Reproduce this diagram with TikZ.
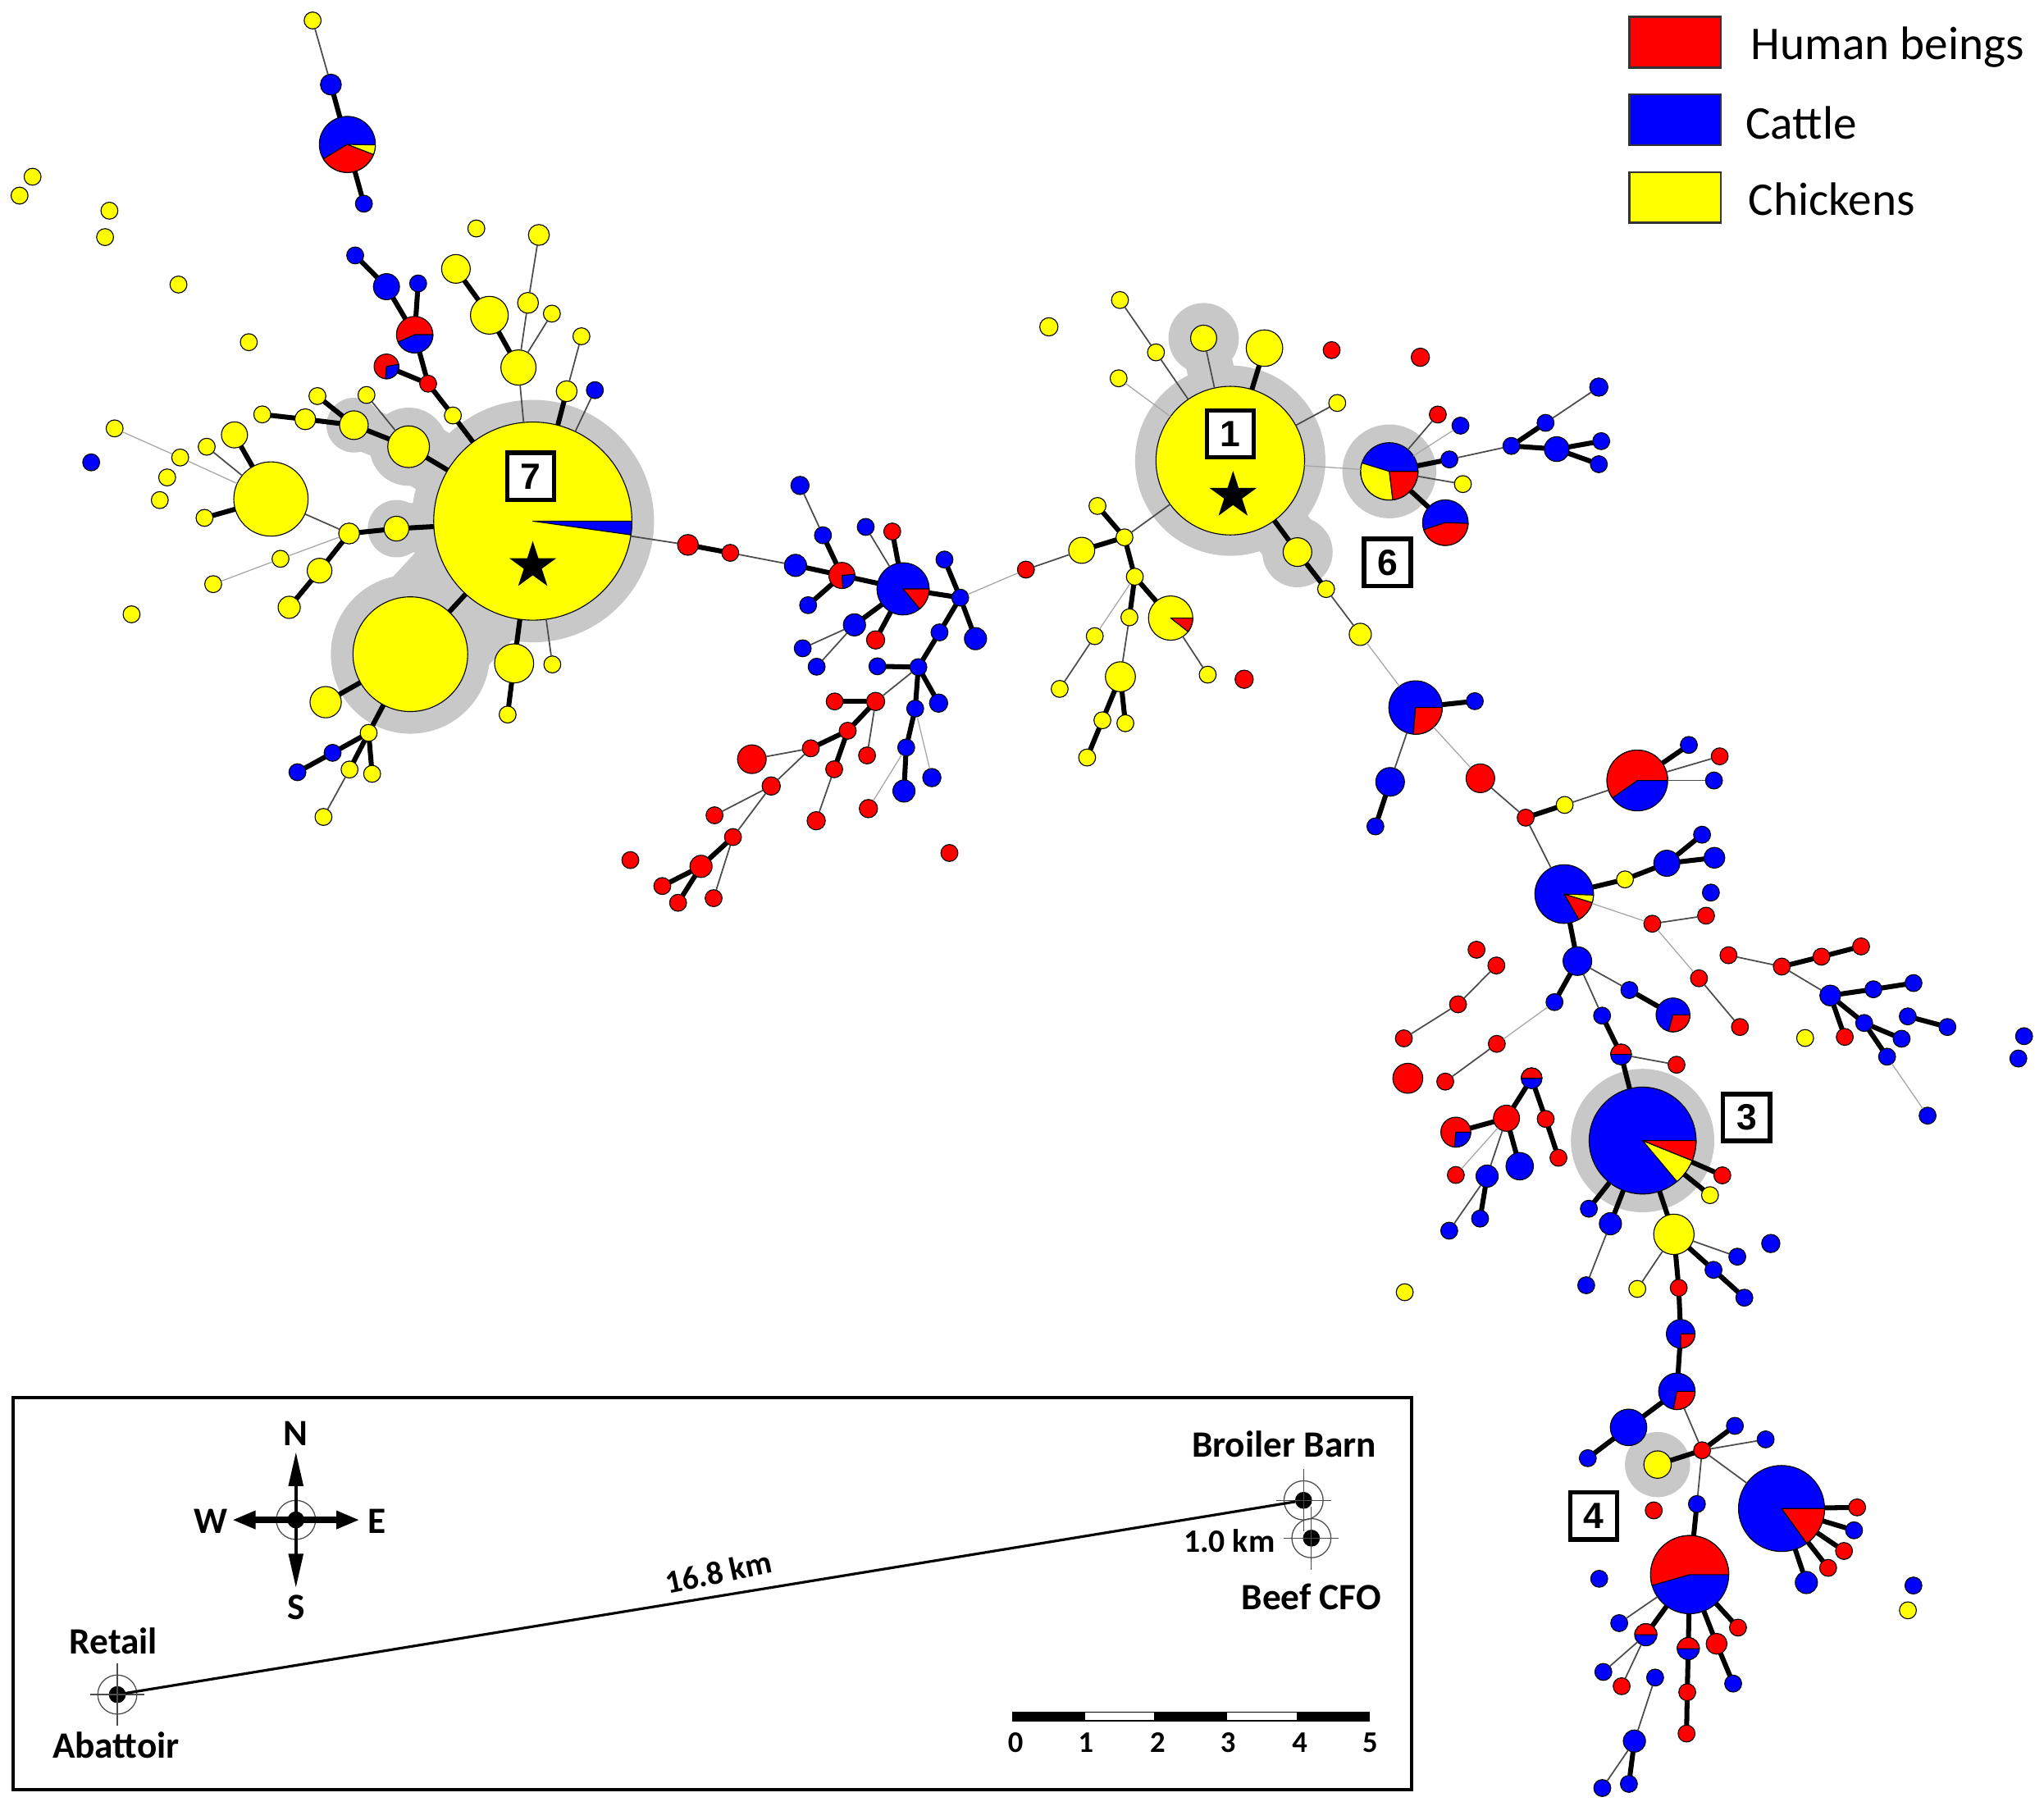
\documentclass[tikz,border=0pt]{standalone}
\usepackage{fontspec}
\setmainfont{Carlito}
\newfontfamily\labfont{Liberation Sans}
\usetikzlibrary{shapes.geometric,arrows.meta,backgrounds}
\definecolor{haloc}{HTML}{C8C8C8}
\definecolor{yellow}{RGB}{255,255,0}
\definecolor{red}{RGB}{255,0,0}
\definecolor{blue}{RGB}{0,0,255}
\tikzset{
  dot/.style={circle,draw=black,line width=0.7pt,inner sep=0pt,outer sep=0pt},
  slicepart/.style={draw=black,line width=0.7pt,line join=round},
  ethick/.style={black,line width=3.8pt},
  ethin/.style={black!70,line width=1.1pt},
  efaint/.style={black!35,line width=0.8pt},
  halo/.style={fill=haloc,draw=none},
  haloneck/.style={draw=haloc},
  numbox/.style={rectangle,draw=black,line width=3.4pt,fill=white,inner sep=0pt,minimum width=36pt,minimum height=36pt,font=\labfont\bfseries\fontsize{28}{30}\selectfont},
  bigstar/.style={star,star points=5,star point ratio=2.618,fill=black,draw=none,minimum size=38pt,inner sep=0pt},
  legbox/.style={rectangle,draw=black!80,line width=1.6pt,minimum width=70pt,minimum height=39pt,inner sep=0pt},
  legtext/.style={anchor=west,inner sep=0pt,font=\fontsize{36}{40}\selectfont},
  maptext/.style={inner sep=0pt,font=\bfseries\fontsize{28.5}{32}\selectfont},
  smalltext/.style={inner sep=0pt,font=\bfseries\fontsize{25}{28}\selectfont},
  scaletext/.style={inner sep=0pt,font=\bfseries\fontsize{23}{26}\selectfont},
  sitedot/.style={circle,fill=black,inner sep=0pt,minimum size=13pt,outer sep=0pt},
  sitering/.style={draw=black!70,line width=0.8pt},
  zoneA/.style={x=0.3331pt,y=-0.4134pt},
  zoneB/.style={shift={(459.4pt,-207.7pt)},x=0.3452pt,y=-0.3211pt},
  zoneC/.style={shift={(786.7pt,-214pt)},x=0.3050pt,y=-0.3050pt},
  zoneD/.style={shift={(1038.4pt,-553.8pt)},x=0.3379pt,y=-0.2810pt},
  zoneE/.style={shift={(1082.4pt,-944pt)},x=0.2649pt,y=-0.2882pt},
}
\newcommand\dotY[4][6.5]{\node[dot,fill=yellow,minimum size=#1*2pt] (#2) at (#3,#4) {};}
\newcommand\dotR[4][6.5]{\node[dot,fill=red,minimum size=#1*2pt] (#2) at (#3,#4) {};}
\newcommand\dotB[4][6.5]{\node[dot,fill=blue,minimum size=#1*2pt] (#2) at (#3,#4) {};}
\newcommand\pienode[6]{\node[dot,fill=#5,minimum size=#4*2pt] (#1) at (#2,#3) {};
  \foreach \sa/\sb/\sc in {#6} {\draw[slicepart,fill=\sc] (#1.center) -- ++(\sa:#4pt) arc[start angle=\sa,end angle=\sb,radius=#4pt] -- cycle;}}
\newcommand\sitemark[3]{%
  \node[sitedot] (#1) at (#2,#3) {};
  \draw[sitering] (#1) circle (15pt);
  \draw[sitering] ([xshift=-21pt]#1.center) -- ([xshift=21pt]#1.center);
  \draw[sitering] ([yshift=-24pt]#1.center) -- ([yshift=24pt]#1.center);}
\begin{document}
\begin{tikzpicture}[x=1pt,y=-1pt]
\useasboundingbox (0,0) rectangle (1568,1396);
% ---------- region A
\begin{scope}[zoneA]
\dotY{a1}{720}{38}\dotB[8]{a2}{762}{157}
\pienode{a3}{800}{268}{21.5}{blue}{211/339/red,339/359/yellow}
\dotB{a4}{838}{378}
\dotY{s1}{75}{328}\dotY{s2}{45}{363}\dotY{s3}{252}{391}\dotY{s4}{242}{440}\dotY{s5}{411}{528}\dotY{s6}{573}{635}\dotY{s7}{303}{1140}
\dotY{s8}{264}{795}\dotB{s9}{210}{858}\dotY{s10}{1097}{424}
\dotY[8]{a5}{1241}{436}\dotY[11]{a6}{1050}{499}\dotY[14.5]{a7}{1127}{585}\dotY[8]{a8}{1216}{562}\dotY{a9}{1271}{582}\dotY[13.5]{a10}{1194}{682}
\dotY{a11}{1339}{624}\dotY[8]{a12}{1305}{726}\dotB{a13}{1370}{724}
\dotB{a14}{818}{474}\dotB[10]{a15}{890}{532}\dotB{a16}{963}{526}
\pienode{a17}{955}{621}{14}{red}{204/360/blue}
\pienode{a18}{890}{680}{9.5}{red}{265/370/blue}
\dotR{a19}{986}{712}\dotY{a20}{1043}{771}
\dotY{a21}{844}{733}\dotY{a22}{731}{735}\dotY[11]{a23}{815}{789}\dotY[16]{a24}{941}{829}
\dotY[8]{a25}{703}{778}\dotY{a26}{604}{769}\dotY[10]{a27}{540}{807}\dotY{a28}{476}{829}\dotY{a29}{415}{849}\dotY{a30}{385}{886}\dotY{a31}{368}{928}
\dotY[28.5]{a32}{624}{926}\dotY{a33}{471}{961}\dotY[8]{a34}{804}{990}\dotY[9.5]{a35}{913}{981}
\pienode{big7}{1227}{967}{76}{yellow}{-8/0/blue}
\dotY{a36}{646}{1037}\dotY[9.5]{a37}{736}{1059}\dotY{a38}{491}{1084}\dotY[8.5]{a39}{666}{1127}
\dotY[44]{a40}{945}{1214}\dotY[12]{a41}{750}{1303}\dotY[15]{a42}{1184}{1231}\dotY{a43}{1272}{1233}\dotY{a44}{1169}{1326}
\dotY{a45}{849}{1360}\dotB{a46}{766}{1397}\dotB{a47}{685}{1433}\dotY{a48}{805}{1428}\dotY{a49}{857}{1436}\dotY{a50}{745}{1516}
\node[numbox] (lab7) at (1222,884) {7};
\node[bigstar] (star7) at (1227,1050) {};
\end{scope}
% ---------- region B
\begin{scope}[zoneB]
\dotR[8]{b1}{198}{655}\dotR{b2}{292}{674}\dotB[8.5]{b3}{437}{704}\dotB{b4}{498}{632}\dotB[7]{b5}{447}{513}
\pienode{b6}{540}{728}{10}{red}{275/365/blue}
\dotB{b7}{465}{799}\dotB{b8}{593}{612}\dotR{b9}{652}{623}
\pienode{b10}{676}{760}{20}{blue}{-50/0/red}
\dotB{b11}{768}{690}\dotB{b12}{803}{781}\dotB[8.5]{b13}{837}{879}\dotB{b14}{757}{864}\dotB[8.5]{b15}{568}{846}\dotR[7]{b16}{615}{882}
\dotB{b17}{453}{902}\dotB{b18}{484}{946}\dotB{b19}{619}{945}\dotB{b20}{710}{947}\dotB[7]{b21}{755}{1033}\dotB{b22}{703}{1046}\dotB{b23}{683}{1139}
\dotB[8.5]{b24}{678}{1243}\dotB[7]{b25}{740}{1211}\dotR[7]{b26}{599}{1285}\dotR[7]{b27}{615}{1029}\dotR{b28}{524}{1029}\dotR{b29}{553}{1099}
\dotR{b30}{471}{1141}\dotR[11]{b31}{340}{1167}\dotR{b32}{596}{1158}\dotR{b33}{523}{1191}\dotR[7]{b34}{383}{1231}\dotR[7]{b35}{483}{1314}
\dotR{b36}{257}{1301}\dotR{b37}{298}{1353}\dotR[8.5]{b38}{227}{1423}\dotR{b39}{141}{1470}\dotR{b40}{176}{1510}\dotR{b41}{255}{1499}
\dotR{b42}{70}{1408}\dotR{b43}{779}{1391}\dotR{b44}{949}{714}
\dotY[10]{c1}{1073}{668}\dotY{c2}{1168}{637}\dotY{c3}{1108}{562}\dotY{c4}{1191}{731}\dotY{c6}{1179}{828}\dotY{c7}{1102}{873}\dotY{c8}{1024}{999}
\dotY[11.5]{c9}{1159}{970}\dotY{c10}{1119}{1074}\dotY{c11}{1170}{1081}\dotY{c12}{1085}{1163}\dotY{c13}{1353}{965}\dotR[7]{c14}{1434}{976}
\dotY[7]{c15}{1000}{134}\dotY{c16}{1158}{70}\dotY{c17}{1238}{195}\dotY{c18}{1155}{257}
\end{scope}
% ---------- region C
\begin{scope}[zoneC]
\pienode{c5}{365}{853}{17}{yellow}{-38/0/red}
\dotY[57]{N1}{515}{457}
\dotY[10]{d1}{448}{149}\dotY[14]{d2}{601}{174}\dotY{d3}{784}{312}\dotR{d4}{770}{179}\dotR[7]{d5}{993}{197}
\dotY[11]{d6}{684}{687}\dotY{d7}{756}{780}\dotY[8.5]{d8}{842}{894}
\pienode{e1}{915}{484}{22}{blue}{163/277/yellow,277/360/red}
\dotR{e2}{1037}{341}\dotB{e3}{1094}{369}\dotB{e4}{1066}{454}\dotY{e5}{1100}{516}
\pienode{e6}{1056}{613}{17.5}{blue}{198/358/red}
\dotB{e7}{1222}{420}\dotB{e8}{1308}{362}\dotB[7]{e9}{1442}{272}\dotB[9.5]{e10}{1336}{428}\dotB{e11}{1448}{408}\dotB{e12}{1442}{466}
\pienode{f1}{981}{1078}{20.5}{blue}{265/360/red}
\dotB{f2}{1130}{1062}\dotB[11]{f3}{917}{1265}\dotB{f4}{880}{1377}\dotR[11]{f5}{1144}{1256}\dotR{f6}{1258}{1355}\dotY{f7}{1356}{1323}
\node[numbox] (lab1) at (515,390) {1};
\node[bigstar] (star1) at (522,545) {};
\node[numbox] (lab6) at (910,713) {6};
\end{scope}
% ---------- region D
\begin{scope}[zoneD]
\pienode{g1}{644}{160}{23.3}{blue}{0/215/red}
\dotB{g2}{761}{63}\dotR{g3}{831}{94}\dotB{g4}{818}{160}
\pienode{h1}{478}{470}{22.5}{blue}{-60/-17/red,-17/-2/yellow}
\dotY{h2}{616}{430}\dotB[10]{h3}{711}{386}\dotB{h4}{791}{308}\dotB[8]{h5}{819}{371}\dotB{h6}{811}{466}\dotR{h7}{678}{551}\dotR{h8}{800}{529}\dotR{h9}{784}{700}\dotR{h10}{877}{833}
\dotB[11]{h11}{508}{653}\dotB{h12}{456}{765}\dotR{h13}{325}{879}\dotR{h14}{208}{982}\dotB{h15}{626}{732}
\pienode{h16}{725}{800}{13}{blue}{255/360/red}
\dotB{h17}{564}{802}
\pienode{h18}{607}{908}{8}{blue}{0/180/red}
\dotR{h19}{733}{936}
\pienode{N3}{656}{1143}{41}{blue}{-50/-22/yellow,-22/0/red}
\node[numbox] (lab3) at (892,1080) {3};
\dotR{h20}{837}{1238}\dotY{h21}{809}{1292}\dotB{h22}{534}{1329}\dotB[8.5]{h23}{583}{1370}\dotY[15.5]{h24}{727}{1399}
\dotB{h25}{528}{1538}\dotY{h26}{644}{1548}\dotR{h27}{738}{1545}\dotB{h28}{871}{1460}\dotB{h29}{817}{1496}\dotB[7]{h30}{947}{1424}\dotB{h31}{887}{1572}
\dotR{i1}{279}{622}\dotR{i2}{324}{665}\dotR{i3}{237}{771}\dotR{i4}{114}{864}\dotR[11.5]{i5}{123}{973}
\pienode{i6}{404}{973}{8}{blue}{0/180/red}
\dotR[10]{i7}{347}{1082}
\pienode{i8}{232}{1120}{11.5}{red}{265/360/blue}
\dotR{i9}{436}{1084}\dotR{i10}{465}{1190}\dotR{i11}{232}{1237}\dotB[8.5]{i12}{303}{1240}\dotB[10.5]{i13}{377}{1213}\dotB{i14}{287}{1356}\dotB{i15}{217}{1389}
\dotR{j1}{851}{637}\dotR{j2}{972}{668}\dotR{j3}{1062}{641}\dotR{j4}{1152}{613}\dotB[8]{j5}{1082}{747}\dotB{j6}{1180}{730}\dotB{j7}{1271}{713}\dotB{j8}{1258}{804}\dotB{j9}{1348}{833}
\dotB{j10}{1159}{822}\dotB{j11}{1244}{865}\dotR{j12}{1115}{860}\dotB{j13}{1211}{914}\dotB{j14}{1303}{1075}\dotY{j15}{1025}{863}\dotB{j16}{1522}{858}\dotB{j17}{1509}{919}\dotY{k1}{116}{1557}
\end{scope}
% ---------- region E
\begin{scope}[zoneE]
\pienode{l1}{781}{275}{11}{blue}{270/360/red}
\pienode{l2}{770}{428}{14}{blue}{259/360/red}
\dotB[14]{l3}{630}{524}\dotB{l4}{512}{606}\dotR{l5}{843}{585}\dotB{l6}{938}{520}\dotB{l7}{1027}{556}\dotY[10.5]{l8}{714}{623}\dotB{l9}{828}{728}\dotR{l10}{703}{745}
\pienode{N4}{807}{916}{30}{blue}{0/196/red}
\pienode{l11}{1073}{740}{33}{blue}{-54/0/red}
\dotR{l12}{1292}{737}\dotB{l13}{1283}{798}\dotR{l14}{1254}{853}\dotR{l15}{1208}{898}\dotB[8.5]{l16}{1145}{937}\dotB{l17}{1455}{945}\dotY{l18}{1439}{1011}\dotB{l19}{545}{927}\dotB{l20}{603}{1045}
\pienode{l21}{680}{1076}{8.5}{blue}{0/180/red}
\pienode{l22}{803}{1113}{8.5}{blue}{0/180/red}
\dotR[8]{l23}{885}{1100}\dotR{l24}{947}{1057}\dotB{l25}{933}{1206}\dotR{l26}{800}{1229}\dotR{l27}{798}{1339}\dotB{l28}{557}{1175}\dotR{l29}{610}{1213}\dotB{l30}{707}{1190}\dotB[8.5]{l31}{647}{1359}\dotB{l32}{631}{1473}\dotB{l33}{554}{1484}
\node[numbox] (lab4) at (529,760) {4};
\end{scope}
% ---------- halos
\begin{scope}[on background layer]
\fill[halo] (big7) circle (93pt) (a24) circle (30pt) (a23) circle (21pt) (a35) circle (22pt) (a40) circle (61pt);
\fill[halo] (N1) circle (73pt) (d1) circle (27pt) (d6) circle (27pt) (e1) circle (36pt);
\fill[halo] (N3) circle (55pt) (l8) circle (25pt);
\draw[haloneck,line width=34pt] (a23.center) -- (a24.center);
\draw[haloneck,line width=50pt] (a24.center) -- (big7.center);
\draw[haloneck,line width=38pt] (a35.center) -- (big7.center);
\draw[haloneck,line width=100pt] (a40.center) -- (big7.center);
\draw[haloneck,line width=36pt] (d1.center) -- (N1.center);
\draw[haloneck,line width=46pt] (d6.center) -- (N1.center);
\end{scope}
% ---------- connectors
\foreach \p/\q in {a2/a3,a3/a4,a14/a15,a15/a17,a16/a17,a17/a19,a18/a19,a19/a20,a20/big7,a6/a7,a7/a10,a12/big7,a24/big7,a23/a24,a22/a23,a25/a23,a26/a25,a35/big7,a34/a35,a37/a34,a39/a37,a27/a32,a33/a32,big7/a40,a41/a40,a45/a40,a46/a45,a47/a46,a48/a45,a49/a45,a42/big7,a44/a42,
 b1/b2,b3/b6,b4/b6,b6/b10,b7/b6,b9/b10,b10/b12,b11/b12,b13/b12,b14/b12,b14/b20,b15/b10,b16/b10,b19/b20,b20/b21,b20/b22,b22/b23,b23/b24,b27/b28,b27/b29,b29/b30,b29/b33,b37/b38,b38/b39,b38/b40,
 c1/c2,c2/c3,c2/c4,c4/c5,c4/c6,c9/c10,c9/c11,c10/c12,
 d2/N1,N1/d6,d6/d7,f1/f2,f3/f4,f6/f7,e1/e4,e1/e6,e7/e8,e7/e10,e10/e11,e10/e12,g1/g2,
 h1/h2,h2/h3,h3/h4,h3/h5,h1/h11,h11/h12,h15/h16,h17/h18,h18/N3,N3/h20,N3/h21,N3/h22,N3/h23,N3/h24,h24/h27,h24/h29,h29/h31,
 i6/i7,i6/i9,i9/i10,i7/i8,i7/i13,i12/i14,j2/j3,j3/j4,j5/j6,j6/j7,j5/j10,j5/j12,j10/j11,j10/j13,j8/j9,
 h27/l1,l1/l2,l2/l3,l3/l4,l5/l6,l5/l8,l9/N4,l11/l12,l11/l13,l11/l14,l11/l15,l11/l16,N4/l21,N4/l22,N4/l23,N4/l24,l23/l25,l22/l26,l26/l27,l31/l32}
  {\draw[ethick] (\p) -- (\q);}
\foreach \p/\q in {a1/a2,a5/a8,a8/a10,a9/a10,a10/big7,a11/a12,a13/big7,a21/a24,a32/a34,a28/a32,a43/big7,a50/a48,big7/b1,
 b2/b3,b5/b4,b8/b10,b17/b15,b18/b15,b20/b27,b27/b32,b33/b35,b30/b31,b30/b34,b34/b36,b34/b37,b37/b41,b44/c1,c2/N1,c7/c8,c6/c9,c5/c13,
 c17/N1,c16/c17,d1/N1,d3/N1,d7/d8,f1/f3,f5/f6,f6/h1,f7/g1,e1/e2,e1/e5,e4/e7,e8/e9,g1/g3,g1/g4,
 h7/h8,h9/h10,h11/h15,h11/h17,h18/h19,h13/h14,h23/h25,h24/h26,h24/h28,i2/i3,i3/i4,i7/i12,i12/i15,j1/j2,j2/j5,
 l2/l5,l5/l7,l5/l9,l5/l11,N4/l20,l21/l28,l21/l29,l30/l31,l31/l33}
  {\draw[ethin] (\p) -- (\q);}
\foreach \p/\q in {a36/a34,a38/a36,a29/a32,s8/a29,b12/b44,b22/b25,b23/b26,c4/c7,d8/f1,f1/f5,c18/N1,N1/e1,e1/e3,h1/h7,h7/h9,h12/h13,i7/i11,j13/j14}
  {\draw[efaint] (\p) -- (\q);}
% ---------- legend
\node[legbox,fill=red] (legR) at (1285,32.5) {};
\node[legbox,fill=blue] (legB) at (1285,92) {};
\node[legbox,fill=yellow] (legY) at (1285,151.5) {};
\node[legtext] (txtR) at (1343,36) {Human beings};
\node[legtext] (txtB) at (1339,94) {Cattle};
\node[legtext] (txtY) at (1341,153) {Chickens};
% ---------- inset map
\node[rectangle,draw=black,line width=2.8pt,minimum width=1073pt,minimum height=301pt,inner sep=0pt] (inset) at (546.5,1222.5) {};
\sitemark{abat}{90}{1300}
\sitemark{broil}{1000}{1151}
\sitemark{beef}{1006}{1180}
\draw[black,line width=2pt] (abat) -- (broil);
\node[smalltext,rotate=12] (dist) at (551,1206) {16.8 km};
\node[maptext] (tbroil) at (985,1108) {Broiler Barn};
\node[maptext] (tbeef) at (1006,1225) {Beef CFO};
\node[smalltext] (tkm) at (943,1182) {1.0 km};
\node[maptext] (tretail) at (87,1259) {Retail};
\node[maptext] (tabat) at (89,1339) {Abattoir};
% compass
\sitemark{cC}{227}{1166}
\coordinate (cN) at (227,1114);
\coordinate (cS) at (227,1218);
\coordinate (cW) at (178,1166);
\coordinate (cE) at (276,1166);
\draw[line width=2.4pt,-{Triangle[length=26pt,width=11pt]}] (cC.center) -- (cN);
\draw[line width=2.4pt,-{Triangle[length=26pt,width=11pt]}] (cC.center) -- (cS);
\draw[line width=5pt,-{Triangle[length=18pt,width=13pt]}] (cC.center) -- (cW);
\draw[line width=5pt,-{Triangle[length=18pt,width=13pt]}] (cC.center) -- (cE);
\node[maptext] (tN) at (227,1100) {N};
\node[maptext] (tS) at (227,1233) {S};
\node[maptext] (tW) at (162,1167) {W};
\node[maptext] (tE) at (289,1167) {E};
% scale bar
\foreach \xa/\xb/\col in {777/832/black,832/886/white,886/941/black,941/995/white,995/1050/black}
  {\draw[draw=black,line width=1pt,fill=\col] (\xa,1313.5) rectangle (\xb,1320);}
\foreach \xx/\lab in {779/0,833/1,888/2,942/3,997/4,1051/5}
  {\node[scaletext] (sc\lab) at (\xx,1337) {\lab};}
\end{tikzpicture}
\end{document}
